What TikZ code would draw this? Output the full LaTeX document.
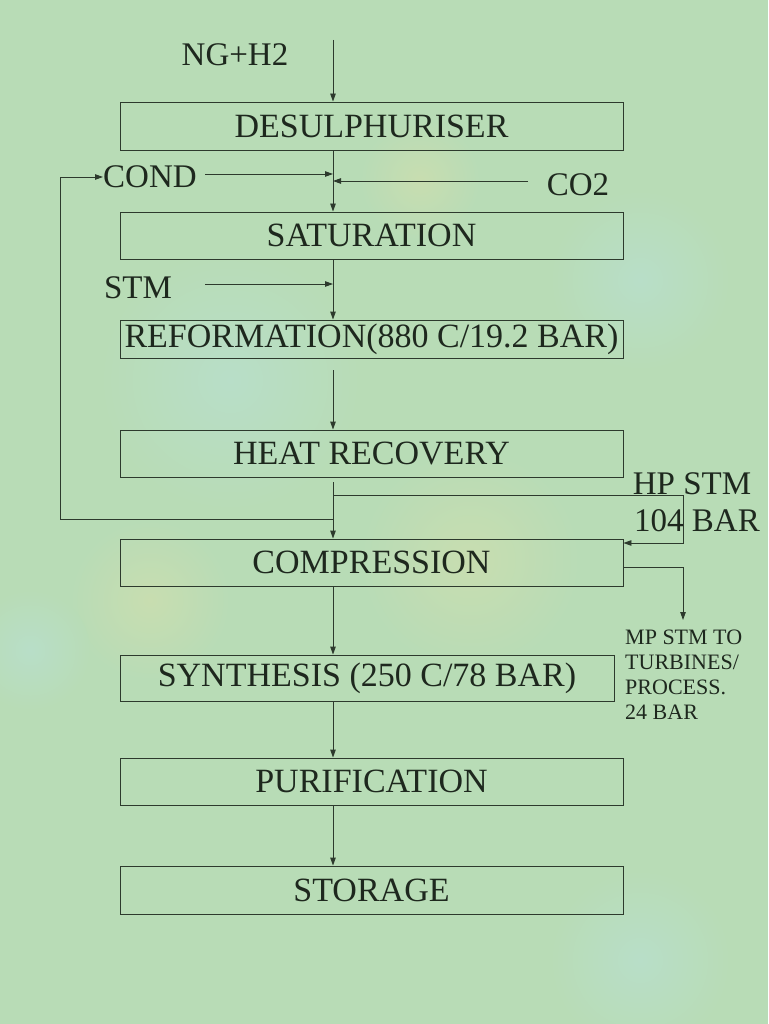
\documentclass[tikz,border=0pt]{standalone}
\usepackage{fontspec}
\setmainfont{Liberation Serif}
\usetikzlibrary{arrows.meta}
\definecolor{bg}{RGB}{184,220,182}
\definecolor{bgb}{RGB}{184,222,200}
\definecolor{bgy}{RGB}{200,221,176}
\definecolor{lc}{RGB}{45,58,45}
\definecolor{tc}{RGB}{30,40,30}
\begin{document}
\begin{tikzpicture}[x=1pt,y=-1pt,
  box/.style={draw=lc, line width=0.9pt, minimum width=503pt, minimum height=47pt, inner sep=0pt, font=\fontsize{34}{36}\selectfont, text=tc},
  arr/.style={draw=lc, line width=0.9pt, -{Triangle[length=8pt,width=5.5pt]}},
  lbl/.style={font=\fontsize{33}{35}\selectfont, text=tc, inner sep=0pt},
  small/.style={font=\fontsize{22}{25}\selectfont, text=tc, inner sep=0pt, align=left}]
\useasboundingbox (0,0) rectangle (768,1024);
\fill[bg] (0,0) rectangle (768,1024);
\shade[inner color=bgb, outer color=bg] (230,380) circle (130);
\shade[inner color=bgy, outer color=bg] (470,560) circle (110);
\shade[inner color=bgy, outer color=bg] (150,600) circle (80);
\shade[inner color=bgb, outer color=bg] (640,280) circle (90);
\shade[inner color=bgy, outer color=bg] (420,180) circle (60);
\shade[inner color=bgb, outer color=bg] (640,960) circle (90);
\shade[inner color=bgb, outer color=bg] (30,650) circle (60);

% boxes
\node[box, minimum height=48pt] (des) at (371.5,126) {DESULPHURISER};
\node[box] (sat) at (371.5,235.5) {SATURATION};
\node[box, minimum height=38pt] (ref) at (371.5,339) {REFORMATION(880 C/19.2 BAR)};
\node[box] (heat) at (371.5,453.5) {HEAT RECOVERY};
\node[box] (comp) at (371.5,562.5) {COMPRESSION};
\node[box, minimum width=494pt, minimum height=46pt] (syn) at (367,678) {SYNTHESIS (250 C/78 BAR)};
\node[box] (pur) at (371.5,781.5) {PURIFICATION};
\node[box, minimum height=48pt] (sto) at (371.5,890) {STORAGE};

% labels
\node[lbl] (ng) at (235,55) {NG+H2};
\node[lbl, anchor=west] (cond) at (103,177) {COND};
\node[lbl] (co2) at (578,185) {CO2};
\node[lbl] (stm) at (138,288) {STM};
\node[lbl] (hp) at (692,484) {HP STM};
\node[lbl] (hpb) at (697,521) {104 BAR};
\node[small, anchor=north west] (mp) at (625,630) {MP STM TO\\TURBINES/\\PROCESS.\\24 BAR};

% coordinates
\coordinate (top) at (333,40);
\coordinate (condS) at (205,174);
\coordinate (co2S) at (528,181);
\coordinate (stmS) at (205,284);
\coordinate (loop) at (333,519);
\coordinate (loopL) at (60,519);
\coordinate (hpS) at (333,495);
\coordinate (hpR) at (683,495);
\coordinate (hpE) at (683,543);
\coordinate (mpS) at (623,567);
\coordinate (mpR) at (683,567);
\coordinate (mpE) at (683,620);

% main flow
\draw[arr] (top) -- (top |- des.north);
\draw[arr] (top |- des.south) -- (top |- sat.north);
\draw[arr] (top |- sat.south) -- (top |- ref.north);
\draw[arr] ([yshift=-12pt]top |- ref.south) -- (top |- heat.north);
\draw[arr] ([yshift=-5pt]top |- heat.south) -- (top |- comp.north);
\draw[arr] (top |- comp.south) -- (top |- syn.north);
\draw[arr] (top |- syn.south) -- (top |- pur.north);
\draw[arr] (top |- pur.south) -- (top |- sto.north);

% side streams
\draw[arr] (condS) -- (condS -| top);
\draw[arr] (co2S) -- (co2S -| top);
\draw[arr] (stmS) -- (stmS -| top);
\draw[arr] (loop) -- (loopL) |- (cond.west);
\draw[arr] (hpS) -- (hpR) -- (hpE) -- (hpE -| comp.east);
\draw[arr] (mpS) -- (mpR) -- (mpE);
\end{tikzpicture}
\end{document}
